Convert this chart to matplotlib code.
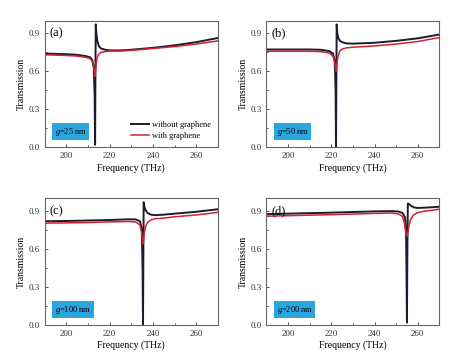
import matplotlib
matplotlib.use("Agg")
import matplotlib.pyplot as plt

plt.rcParams["font.family"] = ["Liberation Serif", "DejaVu Serif"]
plt.rcParams["mathtext.fontset"] = "custom"
plt.rcParams["mathtext.it"] = "Liberation Serif:italic"
plt.rcParams["mathtext.rm"] = "Liberation Serif"

# (a) g = 25 nm
freq_a = [190, 200, 205, 209, 211, 212, 212.7, 213.1, 213.3, 213.45, 213.6, 213.9, 214.3,
          215, 216, 218, 220, 225, 230, 240, 250, 260, 270]
without_a = [0.74, 0.735, 0.73, 0.72, 0.71, 0.69, 0.63, 0.40, 0.02, 0.55, 0.97, 0.90, 0.84,
             0.80, 0.78, 0.77, 0.765, 0.765, 0.77, 0.785, 0.805, 0.83, 0.863]
freq_a_r = [190, 200, 205, 209, 211, 212, 212.7, 213.2, 213.5, 213.8, 214.3, 215, 216, 218,
            220, 225, 230, 240, 250, 260, 270]
with_a = [0.73, 0.725, 0.72, 0.71, 0.70, 0.68, 0.63, 0.56, 0.60, 0.66, 0.71, 0.735, 0.75, 0.755,
          0.76, 0.76, 0.765, 0.78, 0.795, 0.815, 0.84]

# (b) g = 50 nm
freq_b = [190, 200, 210, 215, 219, 220.8, 221.6, 222.0, 222.2, 222.35, 222.5, 222.8, 223.3,
          224, 225, 227, 230, 240, 250, 260, 270]
without_b = [0.772, 0.772, 0.772, 0.77, 0.76, 0.74, 0.68, 0.45, 0.0, 0.50, 0.97, 0.90, 0.86,
             0.84, 0.83, 0.82, 0.818, 0.825, 0.84, 0.86, 0.89]
freq_b_r = [190, 200, 210, 215, 219, 220.8, 221.6, 222.1, 222.4, 222.8, 223.3, 224, 225, 227,
            230, 240, 250, 260, 270]
with_b = [0.758, 0.758, 0.758, 0.755, 0.745, 0.72, 0.67, 0.60, 0.62, 0.69, 0.73, 0.76, 0.775,
          0.785, 0.79, 0.80, 0.815, 0.835, 0.866]

# (c) g = 100 nm
freq_c = [190, 200, 210, 220, 228, 232, 234, 234.8, 235.2, 235.4, 235.55, 235.7, 236.0, 236.5,
          237.5, 239, 241, 245, 250, 260, 270]
without_c = [0.82, 0.822, 0.826, 0.83, 0.835, 0.835, 0.82, 0.76, 0.45, 0.0, 0.50, 0.97, 0.94,
             0.91, 0.885, 0.872, 0.868, 0.872, 0.88, 0.895, 0.915]
freq_c_r = [190, 200, 210, 220, 228, 232, 234, 234.8, 235.3, 235.6, 236.0, 236.6, 237.5, 239,
            241, 245, 250, 260, 270]
with_c = [0.805, 0.807, 0.81, 0.815, 0.818, 0.815, 0.79, 0.73, 0.64, 0.66, 0.73, 0.78, 0.81,
          0.83, 0.84, 0.845, 0.855, 0.87, 0.89]

# (d) g = 200 nm
freq_d = [190, 200, 210, 220, 230, 240, 248, 251, 253, 254.1, 254.6, 254.85, 255.0, 255.15,
          255.4, 256, 257, 258.5, 260, 263, 266, 270]
without_d = [0.876, 0.88, 0.884, 0.888, 0.893, 0.898, 0.90, 0.897, 0.885, 0.85, 0.72, 0.30,
             0.02, 0.50, 0.96, 0.955, 0.94, 0.928, 0.925, 0.927, 0.93, 0.935]
freq_d_r = [190, 200, 210, 220, 230, 240, 248, 251, 252.8, 253.8, 254.5, 255.1, 255.7, 256.5,
            258, 260, 263, 266, 270]
with_d = [0.86, 0.864, 0.868, 0.872, 0.877, 0.882, 0.885, 0.878, 0.86, 0.81, 0.73, 0.70, 0.76,
          0.83, 0.87, 0.888, 0.90, 0.905, 0.915]

panels = [
    ("(a)", "g=25 nm", freq_a, without_a, freq_a_r, with_a),
    ("(b)", "g=50 nm", freq_b, without_b, freq_b_r, with_b),
    ("(c)", "g=100 nm", freq_c, without_c, freq_c_r, with_c),
    ("(d)", "g=200 nm", freq_d, without_d, freq_d_r, with_d),
]

fig = plt.figure(figsize=(4.74, 3.55), dpi=100)
positions = [
    [0.094, 0.585, 0.366, 0.357],
    [0.562, 0.585, 0.365, 0.357],
    [0.094, 0.084, 0.366, 0.357],
    [0.562, 0.084, 0.365, 0.357],
]

for i, (tag, gap, fx, yb, fxr, yr) in enumerate(panels):
    ax = fig.add_axes(positions[i])
    ax.plot(fx, yb, color="#1c1c2e", lw=1.4, label="without graphene")
    ax.plot(fxr, yr, color="#d42030", lw=1.1, label="with graphene")
    ax.set_xlim(190, 270)
    ax.set_ylim(0, 1.0)
    ax.set_xticks([200, 220, 240, 260])
    ax.set_xticks([210, 230, 250, 270], minor=True)
    ax.set_yticks([0.0, 0.3, 0.6, 0.9])
    ax.set_yticks([0.15, 0.45, 0.75], minor=True)
    ax.tick_params(direction="in", labelsize=6.5, length=2.5, width=0.6, colors="#333333")
    ax.tick_params(which="minor", direction="in", length=1.5, width=0.5)
    for s in ax.spines.values():
        s.set_color("#666666")
        s.set_linewidth(0.8)
    ax.set_xlabel("Frequency (THz)", fontsize=7, labelpad=2)
    ax.set_ylabel("Transmission", fontsize=7, labelpad=2)
    ax.text(0.03, 0.95, tag, transform=ax.transAxes, fontsize=9, va="top", ha="left")
    g, rest = gap.split("=")
    ax.text(0.06, 0.075, "$\\it{g}$=" + rest, transform=ax.transAxes, fontsize=6,
            va="bottom", ha="left",
            bbox=dict(boxstyle="square,pad=0.3", fc="#2aa6de", ec="none"))
    if i == 0:
        ax.legend(loc="lower right", frameon=False, fontsize=6, handlelength=2.2,
                  handletextpad=0.3, labelspacing=0.35, borderaxespad=0.5)

fig.savefig("out.png", dpi=100)
